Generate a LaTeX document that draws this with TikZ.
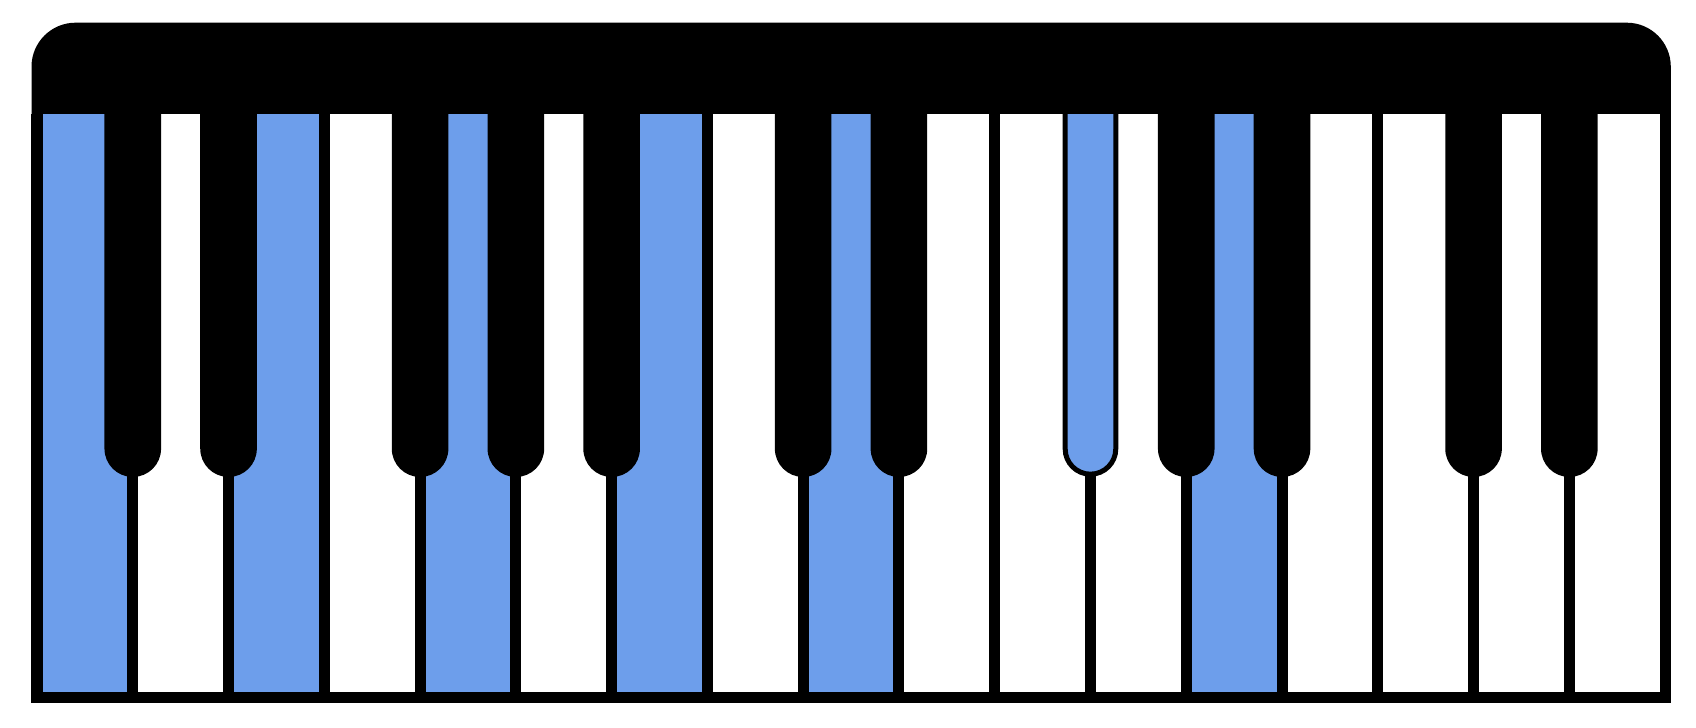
\documentclass[tikz,border=0pt]{standalone}
\definecolor{chordblue}{HTML}{6D9EEB}

\begin{document}
\begin{tikzpicture}[x=0.01cm,y=-0.01cm,
   keyline/.style={line width=0.11cm},
   pressed/.style={fill=chordblue},
   blackkey/.style={fill=black,rounded corners=0.283cm}]
   \useasboundingbox (0,0) rectangle (1696,728);
   % top bar
   \fill[rounded corners=0.44cm] (31.5,22.7) rectangle (1670.8,200);
   % white keys, C major 13 #11 pressed
   \foreach \i in {0,...,16}
      \fill[white] (37+\i*95.77,114) rectangle (37+\i*95.77+95.77,697.5);
   \foreach \i in {0,2,4,6,8,12}
      \fill[pressed] (37+\i*95.77,114) rectangle (37+\i*95.77+95.77,697.5);
   \foreach \i in {1,...,16}
      \draw[keyline] (37+\i*95.77,114) -- (37+\i*95.77,697.5);
   \draw[keyline] (37,114) -- (37,697.5) -- (1665.3,697.5) -- (1665.3,114);
   % black keys
   \foreach \d in {1,2,4,5,6,8,9,12,13,15,16}
      \fill[blackkey] (37+\d*95.77-28.3,60) rectangle (37+\d*95.77+28.3,477);
   % F sharp
   \begin{scope}
      \clip (1040,115) rectangle (1140,500);
      \filldraw[pressed,draw=black,line width=0.05cm,rounded corners=0.253cm]
         (37+11*95.77-25.3,60) rectangle (37+11*95.77+25.3,474.2);
   \end{scope}
\end{tikzpicture}
\end{document}
